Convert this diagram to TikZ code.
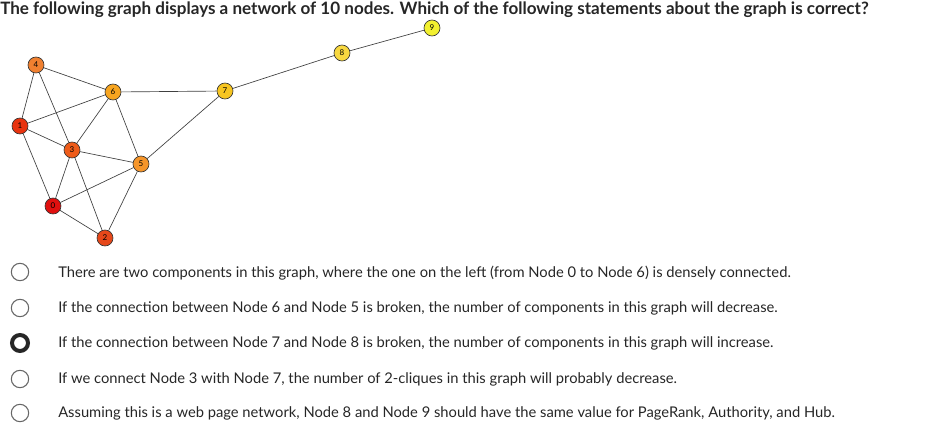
\documentclass[tikz,border=0pt]{standalone}
\usepackage{fontspec}
\setmainfont{Lato}
\begin{document}
\begin{tikzpicture}[x=0.75pt,y=-0.75pt,
  gn/.style={circle,draw=black!80,line width=0.5pt,minimum size=12pt,inner sep=0pt,font=\fontsize{6}{7}\selectfont},
  ge/.style={draw=black!75,line width=0.5pt},
  rb/.style={circle,draw=black!60,line width=0.8pt,minimum size=13pt,inner sep=0pt},
  opt/.style={anchor=west,font=\fontsize{11.05}{13}\selectfont,text=black!85}]
\useasboundingbox (0,0) rectangle (940,434);
\node[anchor=west,font=\bfseries\fontsize{12.8}{15}\selectfont,text=black!85,inner sep=0pt] (title) at (0,10) {The following graph displays a network of 10 nodes. Which of the following statements about the graph is correct?};
\definecolor{c0}{HTML}{E0100F}\definecolor{c1}{HTML}{E8330F}\definecolor{c2}{HTML}{E6481A}
\definecolor{c3}{HTML}{EE5C1A}\definecolor{c4}{HTML}{F08030}\definecolor{c5}{HTML}{F5952A}
\definecolor{c6}{HTML}{F7A520}\definecolor{c7}{HTML}{F7C520}\definecolor{c8}{HTML}{F8D840}\definecolor{c9}{HTML}{F2F030}
\node[gn,fill=c4] (n4) at (36,65) {4};
\node[gn,fill=c6] (n6) at (113,92) {6};
\node[gn,fill=c1] (n1) at (20,126) {1};
\node[gn,fill=c3] (n3) at (72,150) {3};
\node[gn,fill=c5] (n5) at (141,164) {5};
\node[gn,fill=c0] (n0) at (53,206) {0};
\node[gn,fill=c2] (n2) at (105,238) {2};
\node[gn,fill=c7] (n7) at (225,91) {7};
\node[gn,fill=c8] (n8) at (342,53) {8};
\node[gn,fill=c9] (n9) at (432,28) {9};
\foreach \a/\b in {4/1,4/6,4/3,6/1,6/3,6/5,6/7,1/3,1/0,3/5,3/0,3/2,5/0,5/2,0/2,5/7,7/8,8/9}
  \draw[ge] (n\a) -- (n\b);
\node[rb] (r1) at (20,272) {};
\node[rb] (r2) at (20,308) {};
\node[rb,draw=black!85,line width=3pt,minimum size=12pt] (r3) at (20,343) {};
\node[rb] (r4) at (20,379) {};
\node[rb] (r5) at (20,413) {};
\node[opt,inner sep=0pt] (t1) at (58,273) {There are two components in this graph, where the one on the left (from Node 0 to Node 6) is densely connected.};
\node[opt,inner sep=0pt] (t2) at (58,308) {If the connection between Node 6 and Node 5 is broken, the number of components in this graph will decrease.};
\node[opt,inner sep=0pt] (t3) at (58,343) {If the connection between Node 7 and Node 8 is broken, the number of components in this graph will increase.};
\node[opt,inner sep=0pt] (t4) at (58,379) {If we connect Node 3 with Node 7, the number of 2-cliques in this graph will probably decrease.};
\node[opt,inner sep=0pt] (t5) at (58,413) {Assuming this is a web page network, Node 8 and Node 9 should have the same value for PageRank, Authority, and Hub.};
\end{tikzpicture}
\end{document}
